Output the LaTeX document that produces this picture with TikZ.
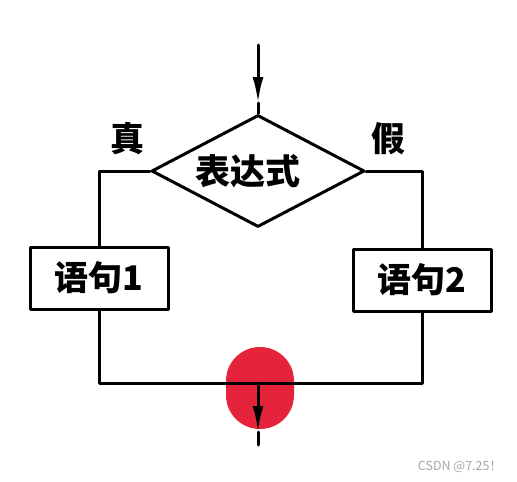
\documentclass[tikz,border=0pt]{standalone}
\usepackage{fontspec}
\newfontfamily\cjk{Noto Sans CJK SC}
\usetikzlibrary{arrows.meta,shapes.geometric}
\definecolor{blobred}{RGB}{229,36,59}

\begin{document}
\begin{tikzpicture}[x=1pt,y=-1pt,line cap=round,line join=round,
  flow/.style={line width=3pt},
  head/.style={flow,-{Latex[length=26pt,width=11pt]}},
  cond/.style={diamond,draw,flow,aspect=1.9,minimum width=213pt,minimum height=112pt,inner sep=0pt,font=\cjk\bfseries\fontsize{35}{40}\selectfont},
  stmt/.style={rectangle,draw,flow,minimum width=138pt,minimum height=62pt,inner sep=0pt,font=\cjk\bfseries\fontsize{34}{40}\selectfont},
  tag/.style={font=\cjk\bfseries\fontsize{34}{38}\selectfont}]
\useasboundingbox (0,0) rectangle (517,482);
\fill [blobred,rounded corners=33.9pt] (226,347) rectangle (294,429);
\node[cond] (expr) at (258,171) {\hspace*{-20pt}表达式};
\node[stmt] (s1) at (99,278) {语句1};
\node[stmt] (s2) at (422,280) {语句2};
\node[tag] (yes) at (127,139) {真};
\node[tag] (no) at (388,139) {假};
\coordinate (in) at (258,45);
\coordinate (inhead) at (258,103);
\coordinate (join) at (258,383);
\coordinate (outhead) at (258,432);
\coordinate (out) at (258,445);
\draw [head] (in) -- (inhead);
\draw [flow] (inhead) -- (expr.north);
\draw [flow] (expr.west) -| (s1.north);
\draw [flow] (expr.east) -| (s2.north);
\draw [flow] (s1.south) |- (join) -| (s2.south);
\draw [head] (join) -- (outhead);
\draw [flow] (outhead) -- (out);
\node[font=\cjk\fontsize{12.5}{14}\selectfont,text=gray!70] (mark) at (460,467) {CSDN @7.25！};
\end{tikzpicture}
\end{document}
